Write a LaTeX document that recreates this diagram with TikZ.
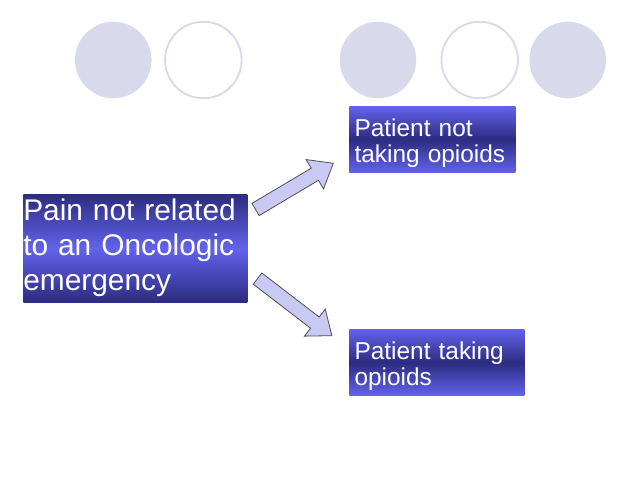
\documentclass[tikz,border=0pt]{standalone}
\usepackage{fontspec}
\setmainfont{Liberation Sans}
\usetikzlibrary{shapes.arrows,calc}

\definecolor{dotfill}{RGB}{217,217,236}
\definecolor{boxlight}{RGB}{98,98,236}
\definecolor{boxdark}{RGB}{44,44,128}
\definecolor{arrowfill}{RGB}{200,202,244}
\definecolor{arrowline}{RGB}{80,80,80}

\tikzset{
  mainbox/.style={anchor=north west, inner xsep=0pt, inner ysep=0pt, text=white, align=left,
    top color=boxdark, bottom color=boxdark, middle color=boxlight,
    font=\fontsize{22.4pt}{26.25pt}\selectfont},
  casebox/.style={anchor=north west, inner xsep=4pt, inner ysep=0pt, text=white, align=left,
    top color=boxlight, bottom color=boxlight, middle color=boxdark,
    font=\fontsize{18.3pt}{19.5pt}\selectfont,
    execute at begin node={\rule{0pt}{18.4pt}}},
  blockarrow/.style={single arrow, draw=arrowline, fill=arrowfill, line width=0.6pt,
    inner xsep=0pt, inner ysep=5pt, single arrow head extend=7.5pt,
    single arrow tip angle=77, sloped, pos=0, anchor=tail}
}

\begin{document}
\begin{tikzpicture}[x=0.75pt, y=-0.75pt]
    \useasboundingbox (0,0) rectangle (638,478);
    % row of circles
    \foreach \cx in {113.3,378,567.7}
      \fill[dotfill] (\cx,60) circle (28.7pt);
    \foreach \cx in {203.3,479.7}
      \draw[dotfill, line width=1.4pt] (\cx,60) circle (28.7pt);

    \node[mainbox, text width=168pt, minimum height=81pt] (pain) at (23,194)
      {Pain not related\\to an Oncologic\\emergency};
    \node[casebox, text width=116.5pt, minimum height=49.5pt] (notake) at (349,106)
      {Patient not\\taking opioids};
    \node[casebox, text width=123.25pt, minimum height=49.5pt] (take) at (349,329)
      {Patient taking\\opioids};

    \coordinate (up tail) at ($(pain.north east)+(7.7,15.7)$);
    \coordinate (up tip) at ($(notake.south west)+(-16.7,-8.7)$);
    \coordinate (down tail) at ($(pain.south east)+(9.7,-24.2)$);
    \coordinate (down tip) at ($(take.north west)+(-18,6)$);
    \path (up tail) -- (up tip) node[blockarrow, minimum height=67.8pt] {};
    \path (down tail) -- (down tip) node[blockarrow, minimum height=70.3pt] {};
\end{tikzpicture}
\end{document}
